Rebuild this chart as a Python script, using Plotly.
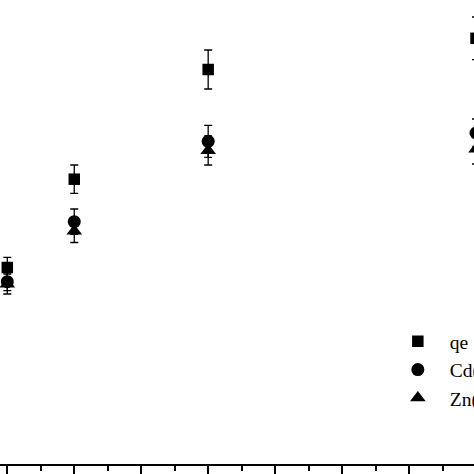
import plotly.graph_objects as go

# contact time (min)
time = [30, 60, 120, 240]

qe = [19.65, 28.48, 39.45, 42.57]
qe_err = [1.02, 1.42, 1.95, 2.13]

cd = [18.23, 24.23, 32.27, 33.1]
cd_err = [0.9, 1.27, 1.6, 1.4]

zn = [18.0, 23.3, 31.35, 31.5]
zn_err = [1.0, 1.15, 1.45, 1.5]

series = [
    ("qe", qe, qe_err, "square", 11.5),
    ("Cd(II)", cd, cd_err, "circle", 13),
    ("Zn(II)", zn, zn_err, "triangle-up", 13.6),
]

fig = go.Figure()
for name, y, err, sym, size in series:
    fig.add_trace(go.Scatter(
        x=time, y=y, name=name, mode="markers",
        marker=dict(symbol=sym, size=size, color="black"),
        error_y=dict(type="data", array=err, color="black", thickness=1.3, width=4),
    ))

fig.update_layout(
    width=474, height=474,
    # no autoexpand: the legend runs off the right edge like in the source crop
    margin=dict(l=0, r=0, t=0, b=10, autoexpand=False),
    plot_bgcolor="white", paper_bgcolor="white",
    font=dict(family="Liberation Serif", size=19.5, color="black"),
    showlegend=True,
    legend=dict(x=0.814, y=0.306, xanchor="left", yanchor="top",
                bgcolor="rgba(0,0,0,0)", itemwidth=54),
)
fig.update_xaxes(
    range=[26.73, 239.1], tick0=0, dtick=30,
    showline=True, linecolor="black", linewidth=2,
    ticks="outside", ticklen=10, tickwidth=1.5, tickcolor="black",
    minor=dict(dtick=15, ticks="outside", ticklen=5, tickwidth=1.5, tickcolor="black"),
    showgrid=False, zeroline=False, showticklabels=False,
)
fig.update_yaxes(range=[0, 46.4], visible=False)

# page has a default body margin; drop it so the 474px figure fills the window
fig.write_html("out.html", config={"displayModeBar": False},
               post_script="document.body.style.margin='0';document.body.style.overflow='hidden';")
